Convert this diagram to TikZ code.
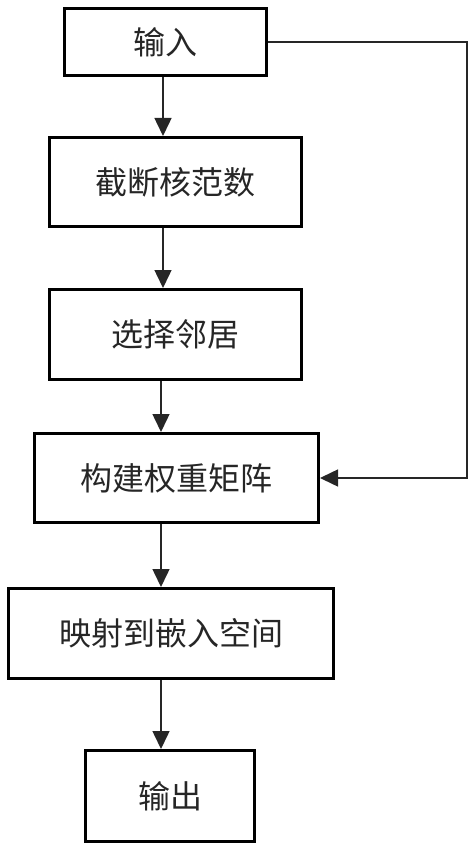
\documentclass[tikz,border=0pt]{standalone}
\usepackage{fontspec}
\setmainfont{Noto Sans CJK SC}
\usetikzlibrary{arrows.meta}
\tikzset{
  stepbox/.style={draw=black, line width=3pt, inner sep=0pt, font=\fontsize{32}{38}\selectfont, text=black!85},
  arr/.style={draw=black!85, line width=1.5pt, -{Triangle[length=18pt,width=17pt]}},
}
\begin{document}
\begin{tikzpicture}[x=1pt,y=-1pt]
\useasboundingbox (0,0) rectangle (474,850);
\node[stepbox, minimum width=202pt, minimum height=67pt] (in) at (165.5,42) {输入};
\node[stepbox, minimum width=252pt, minimum height=89pt] (nuc) at (175.5,182) {截断核范数};
\node[stepbox, minimum width=252pt, minimum height=90pt] (nb) at (175.5,334.5) {选择邻居};
\node[stepbox, minimum width=284pt, minimum height=89pt] (w) at (176.5,478) {构建权重矩阵};
\node[stepbox, minimum width=325pt, minimum height=90pt] (emb) at (171,633.5) {映射到嵌入空间};
\node[stepbox, minimum width=169pt, minimum height=91pt] (out) at (170,796) {输出};
\coordinate (xa) at (163,0);
\coordinate (xb) at (161,0);
\coordinate (fb) at (467,0);
\draw[arr] (in.south -| xa) -- (nuc.north -| xa);
\draw[arr] (nuc.south -| xa) -- (nb.north -| xa);
\draw[arr] (nb.south -| xb) -- (w.north -| xb);
\draw[arr] (w.south -| xb) -- (emb.north -| xb);
\draw[arr] (emb.south -| xb) -- (out.north -| xb);
\draw[arr] (in.east) -- (fb |- in.east) -- (fb |- w.east) -- (w.east);
\end{tikzpicture}
\end{document}
